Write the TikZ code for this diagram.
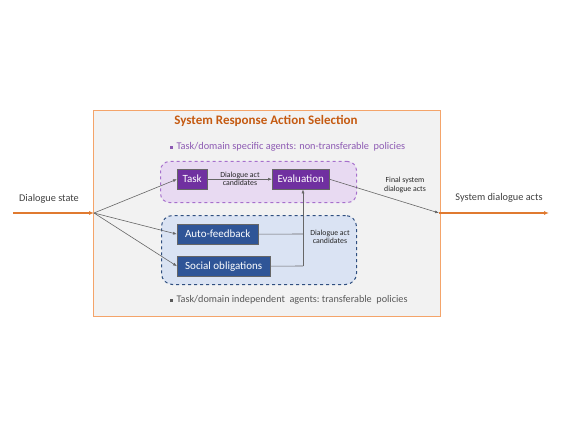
\documentclass[tikz,border=0pt]{standalone}
\usepackage{fontspec}
\setmainfont{Carlito}
\usetikzlibrary{arrows.meta}
\definecolor{orng}{HTML}{F4A46A}
\definecolor{orngdark}{HTML}{C55A11}
\definecolor{orngline}{HTML}{E07A30}
\definecolor{purp}{HTML}{7030A0}
\definecolor{purplight}{HTML}{E8DAF2}
\definecolor{purpdash}{HTML}{A66FCC}
\definecolor{blu}{HTML}{2F5597}
\definecolor{blulight}{HTML}{DAE3F3}
\definecolor{bludash}{HTML}{2F4F80}
\definecolor{graybg}{HTML}{F2F2F2}
\begin{document}
\begin{tikzpicture}[x=1pt,y=-1pt,
  agentP/.style={draw=black!60,fill=purp,text=white,font=\fontsize{11}{13}\selectfont,inner sep=0pt,minimum height=20pt,anchor=north west},
  agentB/.style={draw=black!60,fill=blu,text=white,font=\fontsize{11}{13}\selectfont,inner sep=0pt,minimum height=20pt,anchor=north west},
  small/.style={font=\fontsize{7.8}{8.6}\selectfont,align=center,text=black!85},
  conn/.style={draw=black!60,line width=0.6pt,-{Latex[length=4pt,width=3pt]}},
  main/.style={draw=orngline,line width=1.4pt,-{Latex[length=5pt,width=4pt]}},
  lbl/.style={font=\fontsize{10.3}{12}\selectfont,text=black!75}]
\useasboundingbox (0,0) rectangle (580,422);
% outer box
\node[draw=orng,line width=1.4pt,fill=graybg,minimum width=347pt,minimum height=206pt,anchor=north west,inner sep=0pt] (outer) at (93,110) {};
\node[font=\bfseries\fontsize{13}{15}\selectfont,text=orngdark] (title) at (266,121) {System Response Action Selection};
\node[font=\fontsize{10.3}{12}\selectfont,text=purp!80,anchor=west] (top) at (166,147) {\rule[1pt]{3pt}{3pt}\hspace{4pt}Task/domain specific agents: non-transferable\ \ policies};
% purple group
\node[draw=purpdash,dashed,line width=1pt,fill=purplight,rounded corners=9pt,minimum width=196pt,minimum height=41pt,anchor=north west,inner sep=0pt] (pgroup) at (160,161) {};
% blue group
\node[draw=bludash,dashed,line width=1pt,fill=blulight,rounded corners=11pt,minimum width=195pt,minimum height=69pt,anchor=north west,inner sep=0pt] (bgroup) at (161,215) {};
\node[font=\fontsize{10.2}{12}\selectfont,text=black!65,anchor=west] (bottom) at (166,300) {\rule[1pt]{3pt}{3pt}\hspace{4pt}Task/domain independent\ \ agents:\ transferable\ \ policies};
% agents
\node[agentP,minimum width=30pt] (task) at (177,169) {Task};
\node[agentP,minimum width=57pt] (eval) at (272,169) {Evaluation};
\node[agentB,minimum width=81pt] (auto) at (177,224) {Auto-feedback};
\node[agentB,minimum width=93pt] (social) at (177,256) {Social obligations};
% coordinates
\coordinate (in) at (94,213);
\coordinate (out) at (439,213);
\coordinate (start) at (13,213);
\coordinate (end) at (549,213);
\coordinate (vjoin) at (303,266);
\coordinate (vmid) at (303,234);
% main orange lines
\draw[main] (start) -- (in);
\draw[main] (out) -- (end);
\node[lbl] (dstate) at (49,199) {Dialogue state};
\node[lbl] (sacts) at (499,198) {System dialogue acts};
% connectors
\draw[conn] (in) -- (task.west);
\draw[conn] (in) -- (auto.west);
\draw[conn] (in) -- (social.west);
\draw[conn] (task.east) -- (eval.west);
\node[small] (lab1) at (240,179) {Dialogue act\\candidates};
\draw[draw=black!60,line width=0.6pt] (auto.east) -- (vmid);
\draw[draw=black!60,line width=0.6pt] (social.east) -- (vjoin);
\draw[conn] (vjoin) -- (vjoin |- eval.south);
\node[small] (lab2) at (330,237) {Dialogue act\\candidates};
\draw[conn] (eval.east) -- (out);
\node[small] (lab3) at (405,185) {Final system\\dialogue acts};
\end{tikzpicture}
\end{document}
